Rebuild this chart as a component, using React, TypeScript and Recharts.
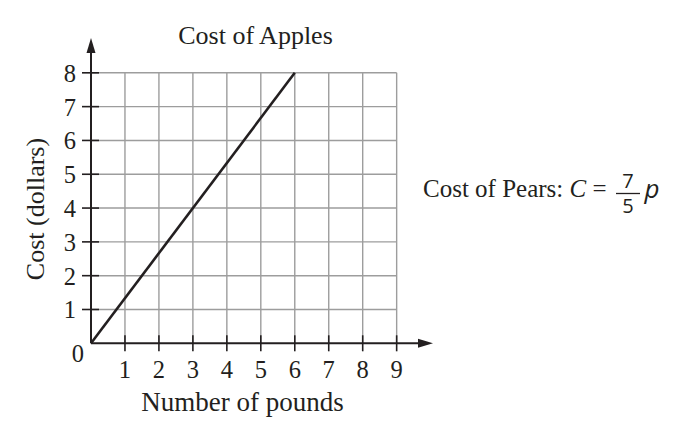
import React from 'react';
import { LineChart, Line, XAxis, YAxis, ReferenceLine } from 'recharts';

// values
const poundTicks = [1, 2, 3, 4, 5, 6, 7, 8, 9];
const costTicks = [0, 1, 2, 3, 4, 5, 6, 7, 8];
const applePounds = [0, 6];
const appleCost = [0, 8];
const gridMaxPounds = 9;
const gridMaxCost = 8;
// axes run a bit past the grid and end in arrows
const xAxisEnd = 10.07;
const yAxisEnd = 9.03;

const appleData = applePounds.map((p, i) => ({ x: p, y: appleCost[i] }));

const SERIF = '"Liberation Serif", "DejaVu Serif", serif';
const INK = '#231f20';
const GRID = '#9d9d9d';
const TICK_FONT = 24.5;

const XTick = ({ x, y, payload }: any) => (
  <g>
    <line x1={x} x2={x} y1={y - 8} y2={y + 8} stroke={INK} strokeWidth={1.6} />
    <text x={x} y={y + 34.5} textAnchor="middle" fontFamily={SERIF} fontSize={TICK_FONT} fill={INK}>
      {payload.value}
    </text>
  </g>
);

const YTick = ({ x, y, payload }: any) => {
  if (payload.value === 0) {
    return (
      <text x={x - 7} y={y + 18.5} textAnchor="end" fontFamily={SERIF} fontSize={TICK_FONT} fill={INK}>
        0
      </text>
    );
  }
  return (
    <g>
      <line x1={x - 9} x2={x + 8} y1={y} y2={y} stroke={INK} strokeWidth={1.6} />
      <text x={x - 15} y={y + 9} textAnchor="end" fontFamily={SERIF} fontSize={TICK_FONT} fill={INK}>
        {payload.value}
      </text>
    </g>
  );
};

// axis line with an arrowhead at its far end
const ArrowLine = (props: any) => {
  const { x1, y1, x2, y2 } = props;
  const dx = x2 - x1;
  const dy = y2 - y1;
  const len = Math.sqrt(dx * dx + dy * dy) || 1;
  const ux = dx / len;
  const uy = dy / len;
  const head = 15;
  const half = 4.5;
  const bx = x2 - ux * head;
  const by = y2 - uy * head;
  const pts = `${x2},${y2} ${bx - uy * half},${by + ux * half} ${bx + uy * half},${by - ux * half}`;
  return (
    <g>
      <line x1={x1} y1={y1} x2={bx + ux * 2} y2={by + uy * 2} stroke={INK} strokeWidth={2} />
      <polygon points={pts} fill={INK} />
    </g>
  );
};

export default function App() {
  return (
    <div style={{ position: 'absolute', left: 0, top: 0, width: 694, height: 434, background: '#fff' }}>
      <LineChart
        width={694}
        height={434}
        data={appleData}
        margin={{ top: 38, right: 261, bottom: 0, left: 0 }}
      >
        <XAxis
          type="number"
          dataKey="x"
          domain={[0, xAxisEnd]}
          ticks={poundTicks}
          interval={0}
          height={90.7}
          axisLine={false}
          tickLine={false}
          tickSize={0}
          tickMargin={0}
          tick={<XTick />}
        />
        <YAxis
          type="number"
          dataKey="y"
          domain={[0, yAxisEnd]}
          ticks={costTicks}
          interval={0}
          width={91}
          axisLine={false}
          tickLine={false}
          tickSize={0}
          tickMargin={0}
          tick={<YTick />}
        />
        {poundTicks.map((p) => (
          <ReferenceLine
            key={`v-${p}`}
            segment={[{ x: p, y: 0 }, { x: p, y: gridMaxCost }]}
            stroke={GRID}
            strokeWidth={1.4}
          />
        ))}
        {costTicks.filter((c) => c > 0).map((c) => (
          <ReferenceLine
            key={`h-${c}`}
            segment={[{ x: 0, y: c }, { x: gridMaxPounds, y: c }]}
            stroke={GRID}
            strokeWidth={1.4}
          />
        ))}
        <ReferenceLine segment={[{ x: 0, y: 0 }, { x: xAxisEnd, y: 0 }]} shape={<ArrowLine />} />
        <ReferenceLine segment={[{ x: 0, y: 0 }, { x: 0, y: yAxisEnd }]} shape={<ArrowLine />} />
        <Line
          type="linear"
          dataKey="y"
          stroke={INK}
          strokeWidth={2.6}
          dot={false}
          isAnimationActive={false}
        />
      </LineChart>
      <svg
        width={694}
        height={434}
        style={{ position: 'absolute', left: 0, top: 0, pointerEvents: 'none' }}
        fontFamily={SERIF}
        fill={INK}
      >
        <text x={255.5} y={44} textAnchor="middle" fontSize={26}>Cost of Apples</text>
        <text x={242.5} y={411} textAnchor="middle" fontSize={27}>Number of pounds</text>
        <text transform="translate(44,209) rotate(-90)" textAnchor="middle" fontSize={26}>Cost (dollars)</text>
        <text x={423} y={197} fontSize={25}>
          Cost of Pears: <tspan fontStyle="italic">C</tspan> =
        </text>
        <g fontFamily='"Open Sans", "Noto Sans", sans-serif' fontSize={20}>
          <text x={628} y={187.5} textAnchor="middle">7</text>
          <line x1={616} x2={640} y1={193.5} y2={193.5} stroke={INK} strokeWidth={1.3} />
          <text x={628} y={213} textAnchor="middle">5</text>
          <text x={644.5} y={198} fontSize={26} fontStyle="italic">p</text>
        </g>
      </svg>
    </div>
  );
}
